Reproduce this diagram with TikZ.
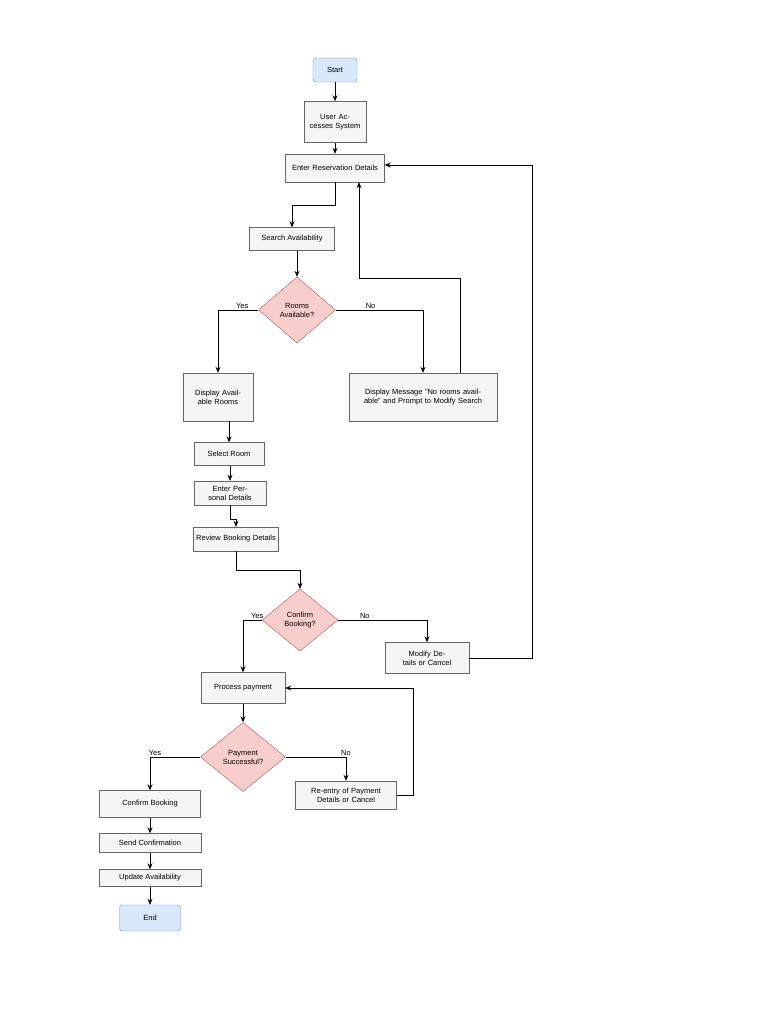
\documentclass[tikz,border=0pt]{standalone}
\usepackage{fontspec}
\setmainfont{Liberation Sans}
\usetikzlibrary{shapes.geometric,arrows.meta}
\definecolor{bfill}{HTML}{F5F5F5}\definecolor{bdraw}{HTML}{666666}
\definecolor{dfill}{HTML}{F8CECC}\definecolor{ddraw}{HTML}{B85450}
\definecolor{tfill}{HTML}{DAE8FC}\definecolor{tdraw}{HTML}{6C8EBF}
\begin{document}
\begin{tikzpicture}[x=1pt,y=-1pt,font=\fontsize{7.5}{9}\selectfont,
 box/.style={draw=bdraw,fill=bfill,align=center,inner sep=1pt},
 term/.style={draw=tdraw,fill=tfill,rounded corners=3pt,align=center},
 dec/.style={diamond,draw=ddraw,fill=dfill,align=center,inner sep=0pt},
 ar/.style={-{Stealth[length=6pt,width=5pt]},line width=0.8pt},
 lab/.style={inner sep=1pt}]
\useasboundingbox (0,0) rectangle (768,1024);
\node[term,minimum width=44,minimum height=24] (start) at (335,70) {Start};
\node[box,minimum width=62,minimum height=41,text width=56] (user) at (335,122) {User Accesses System};
\node[box,minimum width=99,minimum height=28,text width=95] (enter) at (335,168) {Enter Reservation Details};
\node[box,minimum width=85,minimum height=23] (search) at (292,239) {Search Availability};
\node[dec,minimum width=77,minimum height=66] (rooms) at (297,310) {Rooms\\Available?};
\node[box,minimum width=70,minimum height=48,text width=60] (disp) at (218,397) {Display Available Rooms};
\node[box,minimum width=148,minimum height=48,text width=144] (msg) at (423,397) {Display Message "No rooms available" and Prompt to Modify Search};
\node[box,minimum width=70,minimum height=23] (sel) at (229,454) {Select Room};
\node[box,minimum width=72,minimum height=24,text width=70] (pers) at (230,493) {Enter Personal Details};
\node[box,minimum width=85,minimum height=24,text width=80] (rev) at (236,539) {Review Booking Details};
\node[dec,minimum width=76,minimum height=62] (conf) at (300,620) {Confirm\\Booking?};
\node[box,minimum width=84,minimum height=31,text width=80] (mod) at (427,658) {Modify Details or Cancel};
\node[box,minimum width=84,minimum height=31] (proc) at (243,688) {Process payment};
\node[dec,minimum width=85,minimum height=69] (pay) at (243,757) {Payment\\Successful?};
\node[box,minimum width=101,minimum height=28,text width=97] (reen) at (346,795) {Re-entry of Payment Details or Cancel};
\node[box,minimum width=101,minimum height=27] (cb) at (150,804) {Confirm Booking};
\node[box,minimum width=102,minimum height=19] (send) at (150,843) {Send Confirmation};
\node[box,minimum width=102,minimum height=17] (upd) at (150,878) {Update Availability};
\node[term,minimum width=61,minimum height=26] (end) at (150,918) {End};
\draw[ar] (start) -- (user);
\draw[ar] (user) -- (enter);
\draw[ar] (enter.south) -- (335,205) -| (search.north);
\draw[ar] (search.south -| rooms.north) -- (rooms.north);
\draw[ar] (rooms.west) -| (disp.north) node[lab,pos=0.2,above] {Yes};
\draw[ar] (rooms.east) -| (msg.north) node[lab,pos=0.2,above] {No};
\draw[ar] (msg.north -| 460,0) -- (460,278) -- (359,278) -- (enter.south -| 359,0);
\draw[ar] (disp.south -| sel.north) -- (sel.north);
\draw[ar] (sel.south -| pers.north) -- (pers.north);
\draw[ar] (pers.south) -- (230,519) -| (rev.north);
\draw[ar] (rev.south) -- (236,570) -| (conf.north);
\draw[ar] (conf.west) -| (proc.north) node[lab,pos=0.12,above] {Yes};
\draw[ar] (conf.east) -| (mod.north) node[lab,pos=0.15,above] {No};
\draw[ar] (mod.east) -- (532,658) -- (532,165) -- (enter.east |- 0,165);
\draw[ar] (proc) -- (pay);
\draw[ar] (pay.west) -| (cb.north) node[lab,pos=0.45,above] {Yes};
\draw[ar] (pay.east) -| (reen.north) node[lab,pos=0.5,above] {No};
\draw[ar] (reen.east) -- (413,795) -- (413,688) -- (proc.east);
\draw[ar] (cb) -- (send);
\draw[ar] (send) -- (upd);
\draw[ar] (upd) -- (end);
\end{tikzpicture}
\end{document}
